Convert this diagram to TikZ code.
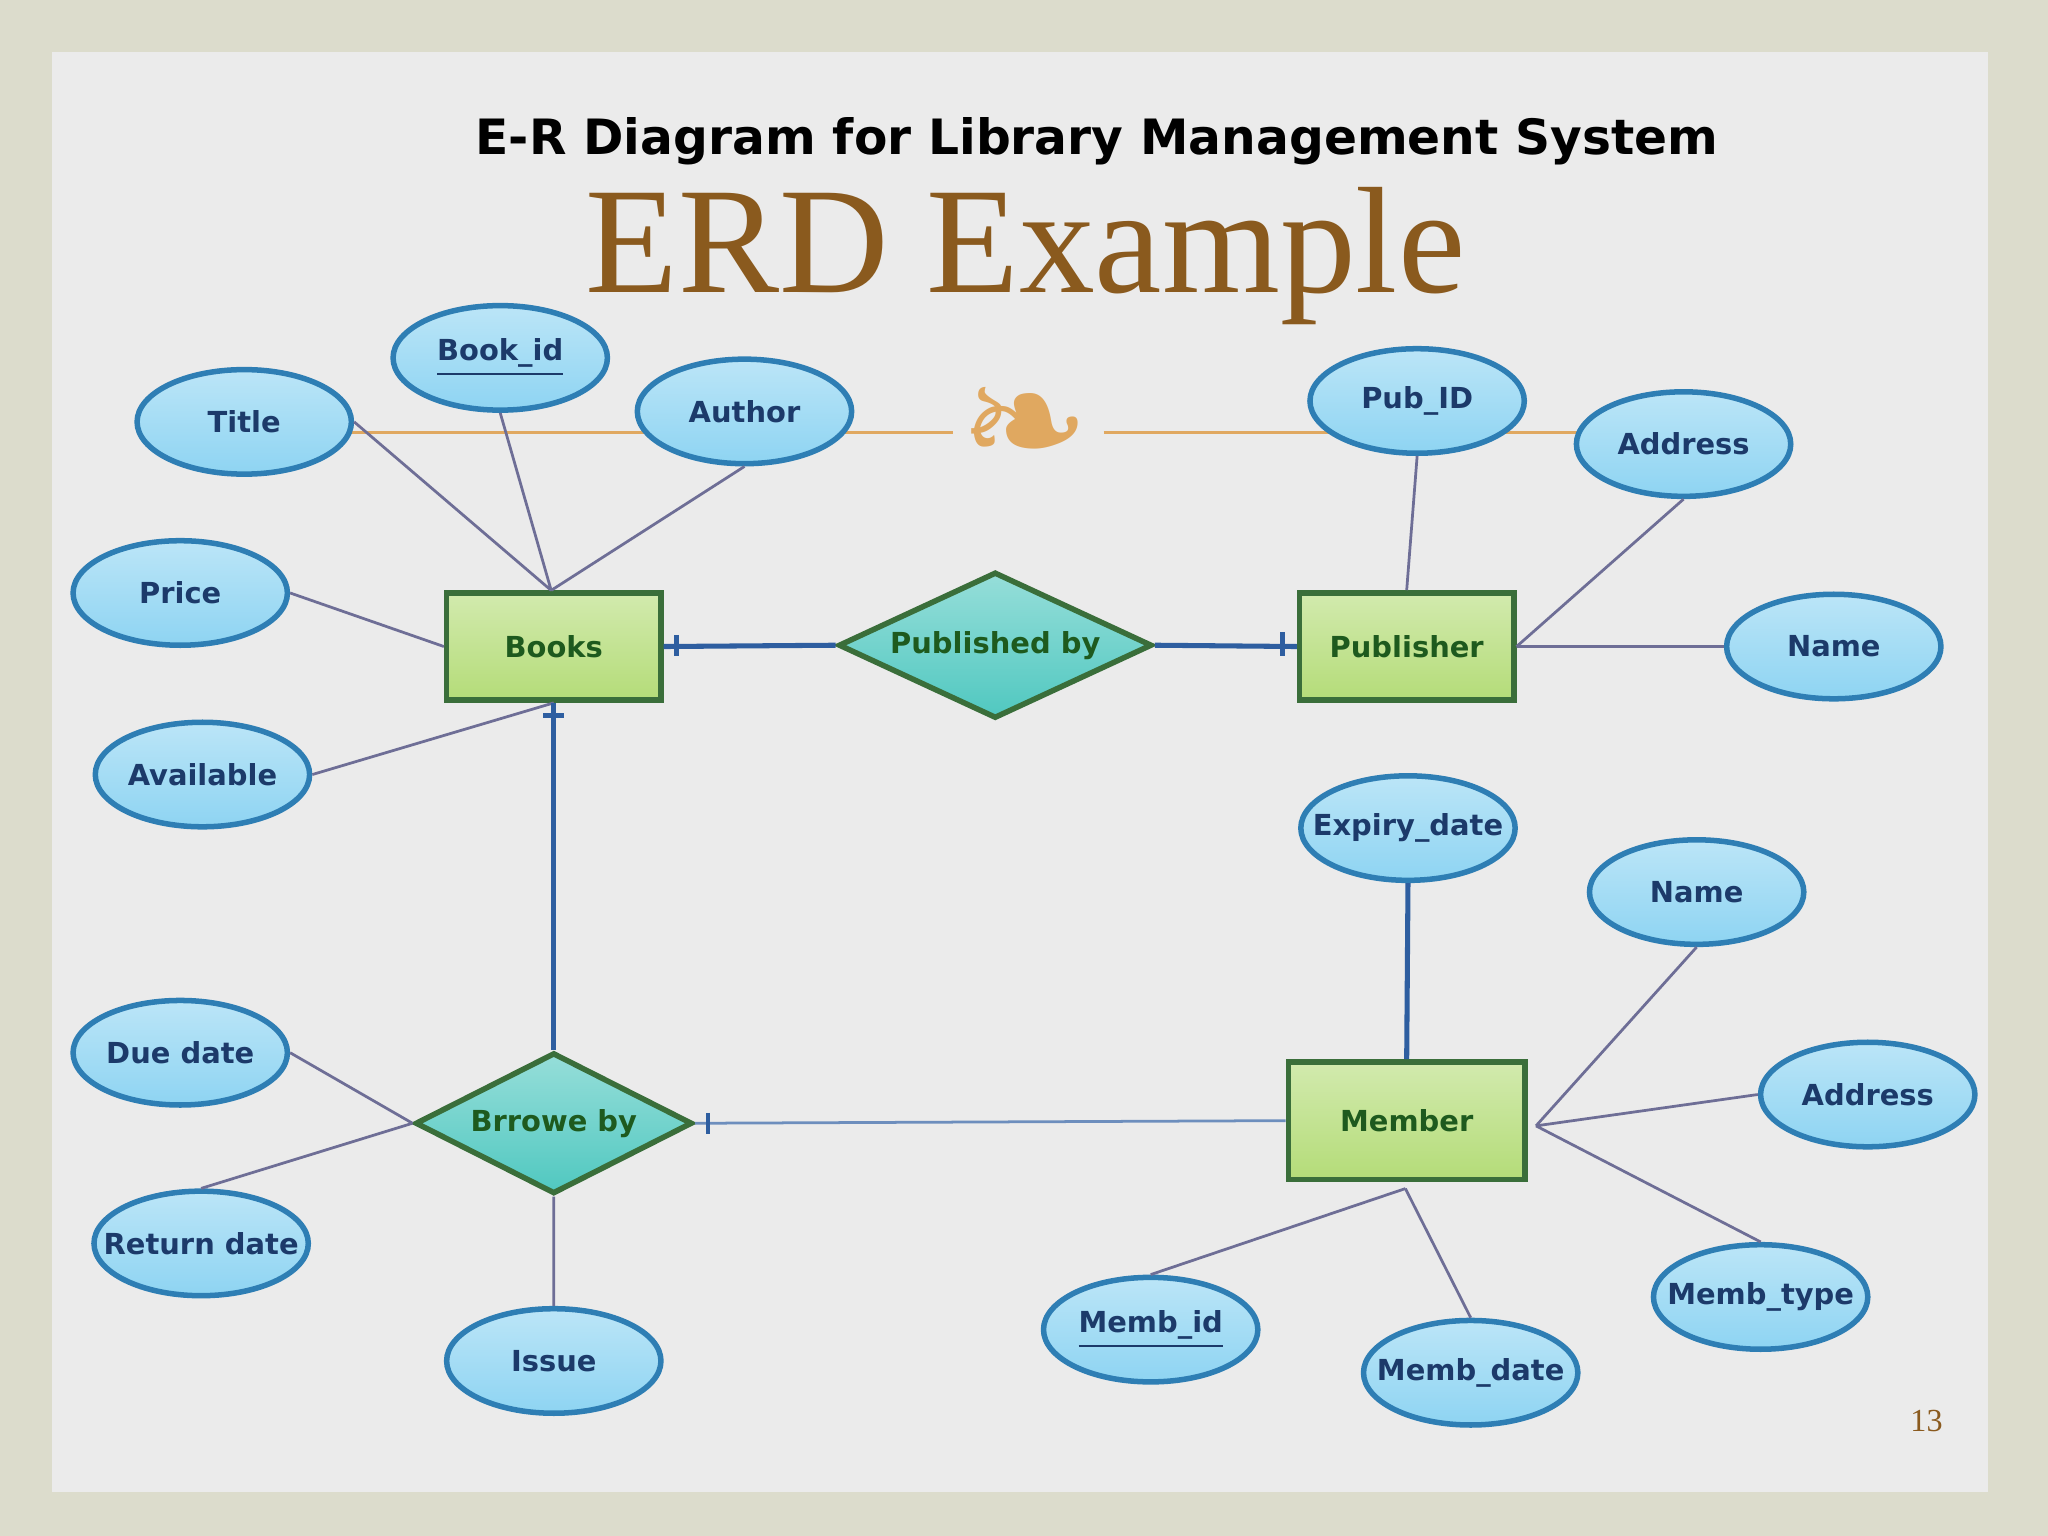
\documentclass[tikz,border=0pt]{standalone}
\usepackage{fontspec}
\setmainfont{DejaVu Sans}
\newfontfamily\serifx{Liberation Serif}
\usetikzlibrary{shapes.geometric}
\definecolor{bgout}{HTML}{DCDCCC}
\definecolor{bgin}{HTML}{EBEBEB}
\definecolor{ellf}{HTML}{8ED4F2}
\definecolor{elld}{HTML}{2E7EB4}
\definecolor{txtb}{HTML}{1C3A6A}
\definecolor{entf}{HTML}{B4DC78}
\definecolor{entd}{HTML}{3A6E3A}
\definecolor{entt}{HTML}{1E5A1E}
\definecolor{relf}{HTML}{50C8C0}
\definecolor{lnk}{HTML}{6E6E96}
\definecolor{rel}{HTML}{2E5EA0}
\definecolor{brown}{HTML}{8A5A1E}
\definecolor{orng}{HTML}{E0A860}
\tikzset{
 attr/.style={ellipse,draw=elld,line width=1.2pt,top color=ellf!60!white,bottom color=ellf,minimum width=1.64cm,minimum height=0.8cm,inner sep=0pt,
   label={[font=\fontsize{6.3}{7}\selectfont\bfseries,text=txtb]center:#1}},
 ent/.style={rectangle,draw=entd,line width=1.2pt,top color=entf!60!white,bottom color=entf,font=\fontsize{6.3}{7}\selectfont\bfseries,text=entt,inner sep=0pt},
 relship/.style={diamond,draw=entd,line width=1.2pt,top color=relf!60!white,bottom color=relf,font=\fontsize{6.3}{7}\selectfont\bfseries,text=entt,inner sep=0pt,aspect=2.1},
 lk/.style={draw=lnk,line width=0.6pt},
 rl/.style={draw=rel,line width=1.1pt}
}
\begin{document}
\begin{tikzpicture}[x=0.01cm,y=-0.01cm]
\fill[bgout] (0,0) rectangle (1568,1176);
\fill[bgin] (40,40) rectangle (1522,1142);
\useasboundingbox (0,0) rectangle (1568,1176);
\node[font=\fontsize{10.6}{12}\selectfont\bfseries] (ttl) at (840,108) {E-R Diagram for Library Management System};
\draw[orng,line width=0.6pt] (268,331) -- (730,331) (845,331) -- (1210,331);
\node[font=\serifx\fontsize{33}{36}\selectfont,text=brown] (erd) at (785,196) {ERD Example};
\node[font=\fontsize{34}{36}\selectfont,text=orng] (orn) at (785,330) {❧};
\node[font=\serifx\fontsize{7}{8}\selectfont,text=brown] (pg) at (1475,1088) {13};
% entities
\node[ent,minimum width=1.64cm,minimum height=0.82cm] (books) at (424,495) {Books};
\node[ent,minimum width=1.64cm,minimum height=0.82cm] (pub) at (1077,495) {Publisher};
\node[ent,minimum width=1.81cm,minimum height=0.9cm] (mem) at (1077,858) {Member};
\node[relship,minimum width=2.4cm,minimum height=1.12cm] (pb) at (762,494) {Published by};
\node[relship,minimum width=2.12cm,minimum height=1.08cm] (bb) at (424,860) {Brrowe by};
% attributes
\node[attr={\underline{Book\_id}}] (bid) at (383,274) {};
\node[attr={Title}] (title) at (187,323) {};
\node[attr={Author}] (auth) at (570,315) {};
\node[attr={Price}] (price) at (138,454) {};
\node[attr={Available}] (avail) at (155,593) {};
\node[attr={Pub\_ID}] (pid) at (1085,307) {};
\node[attr={Address}] (padd) at (1289,340) {};
\node[attr={Name}] (pname) at (1404,495) {};
\node[attr={Expiry\_date}] (exp) at (1078,634) {};
\node[attr={Name}] (mname) at (1299,683) {};
\node[attr={Address}] (madd) at (1430,838) {};
\node[attr={Memb\_type}] (mtype) at (1348,993) {};
\node[attr={Memb\_date}] (mdate) at (1126,1051) {};
\node[attr={\underline{Memb\_id}}] (mid) at (881,1018) {};
\node[attr={Due date}] (due) at (138,806) {};
\node[attr={Return date}] (ret) at (154,952) {};
\node[attr={Issue}] (iss) at (424,1042) {};
% links
\coordinate (btop) at (422,452);
\path[lk] (title.east) -- (btop) (bid.south) -- (btop) (auth.south) -- (btop);
\path[lk] (price.east) -- (books.west) (avail.east) -- (books.south);
\path[lk] (pid.south) -- (pub.north) (padd.south) -- (pub.east) (pname.west) -- (pub.east);
\coordinate (mr) at (1176,862);
\coordinate (mb) at (1076,910);
\path[lk] (mname.south) -- (mr) (madd.west) -- (mr) (mtype.north) -- (mr);
\path[lk] (mid.north) -- (mb) (mdate.north) -- (mb);
\path[lk] (due.east) -- (bb.west) (ret.north) -- (bb.west) (iss.north) -- (bb.south);
\path[rl] (books.east) -- (pb.west) (pb.east) -- (pub.west);
\path[rl] (books.south) -- (bb.north);
\path[rl] (exp.south) -- (mem.north);
\path[lk,draw=rel!70] (bb.east) -- (mem.west);
% ticks
\draw[rel,line width=1pt] (518,486) -- (518,502) (982,484) -- (982,502) (416,548) -- (432,548) (542,852) -- (542,868);
\end{tikzpicture}
\end{document}
